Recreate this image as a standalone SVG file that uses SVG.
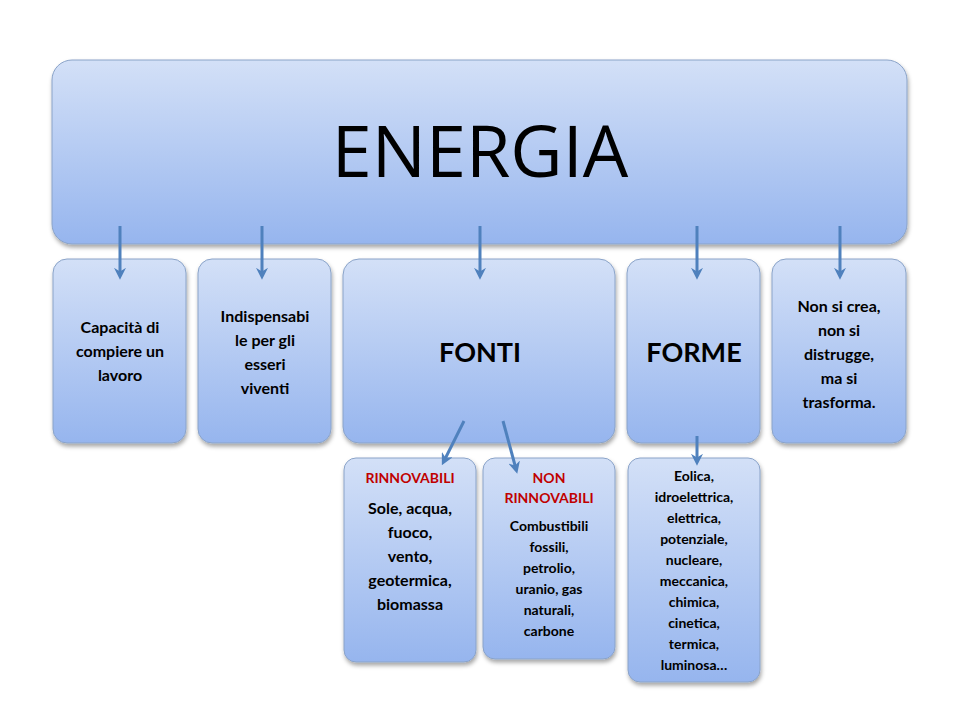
<svg xmlns="http://www.w3.org/2000/svg" width="960" height="720" viewBox="0 0 960 720">
<defs>
<linearGradient id="g" x1="0" y1="0" x2="0" y2="1"><stop offset="0" stop-color="#d3e0f7"/><stop offset="1" stop-color="#96b5ee"/></linearGradient>
<filter id="sh" x="-10%" y="-10%" width="130%" height="130%"><feDropShadow dx="1" dy="3" stdDeviation="2" flood-color="#000" flood-opacity="0.35"/></filter>
<marker id="ah" viewBox="0 0 10 10" refX="6" refY="5" markerWidth="4" markerHeight="4" orient="auto"><path d="M0,0 L10,5 L0,10 L3,5 Z" fill="#4f81bd"/></marker>
</defs>
<style>
.b{fill:url(#g);stroke:#8aa3c8;stroke-width:1;filter:url(#sh)}
.t{font-family:Lato,"Open Sans",sans-serif;font-weight:bold;fill:#000;text-anchor:middle}
.s{font-size:16px}
.r{fill:#c00000}
.c line{stroke:#4f81bd;stroke-width:3;marker-end:url(#ah)}
</style>
<rect width="960" height="720" fill="#fff"/>
<g id="energia"><rect class="b" x="52" y="60" width="855" height="184" rx="20"/><text class="t" x="480" y="177" style="font-size:72px;font-weight:normal;font-family:'Open Sans',sans-serif">ENERGIA</text></g>
<g id="capacita"><rect class="b" x="53" y="259" width="133" height="184" rx="14"/><text class="t s" x="120" y="333">Capacità di</text><text class="t s" x="120" y="357">compiere un</text><text class="t s" x="120" y="381">lavoro</text></g>
<g id="indisp"><rect class="b" x="198" y="259" width="133" height="184" rx="14"/><text class="t s" x="265" y="322">Indispensabi</text><text class="t s" x="265" y="346">le per gli</text><text class="t s" x="265" y="370">esseri</text><text class="t s" x="265" y="394">viventi</text></g>
<g id="fonti"><rect class="b" x="343" y="259" width="272" height="184" rx="16"/><text class="t" x="480" y="362" style="font-size:27px">FONTI</text></g>
<g id="forme"><rect class="b" x="627" y="259" width="133" height="184" rx="14"/><text class="t" x="694" y="362" style="font-size:27px">FORME</text></g>
<g id="nonsicrea"><rect class="b" x="772" y="259" width="134" height="184" rx="14"/><text class="t s" x="839" y="312">Non si crea,</text><text class="t s" x="839" y="336">non si</text><text class="t s" x="839" y="360">distrugge,</text><text class="t s" x="839" y="384">ma si</text><text class="t s" x="839" y="408">trasforma.</text></g>
<g id="rinn"><rect class="b" x="344" y="458" width="132" height="204" rx="12"/><text class="t r" x="410" y="483" style="font-size:14px">RINNOVABILI</text><text class="t s" x="410" y="514">Sole, acqua,</text><text class="t s" x="410" y="538">fuoco,</text><text class="t s" x="410" y="562">vento,</text><text class="t s" x="410" y="586">geotermica,</text><text class="t s" x="410" y="610">biomassa</text></g>
<g id="nonrinn"><rect class="b" x="483" y="458" width="132" height="201" rx="12"/><text class="t r" x="549" y="483" style="font-size:14px">NON</text><text class="t r" x="549" y="503" style="font-size:14px">RINNOVABILI</text><text class="t" x="549" y="531" style="font-size:14px">Combustibili</text><text class="t" x="549" y="552" style="font-size:14px">fossili,</text><text class="t" x="549" y="573" style="font-size:14px">petrolio,</text><text class="t" x="549" y="594" style="font-size:14px">uranio, gas</text><text class="t" x="549" y="615" style="font-size:14px">naturali,</text><text class="t" x="549" y="636" style="font-size:14px">carbone</text></g>
<g id="formelist"><rect class="b" x="628" y="458" width="132" height="224" rx="12"/>
<g class="t" style="font-size:14px"><text x="694" y="481">Eolica,</text><text x="694" y="502">idroelettrica,</text><text x="694" y="523">elettrica,</text><text x="694" y="544">potenziale,</text><text x="694" y="565">nucleare,</text><text x="694" y="586">meccanica,</text><text x="694" y="607">chimica,</text><text x="694" y="628">cinetica,</text><text x="694" y="649">termica,</text><text x="694" y="670">luminosa…</text></g></g>
<g id="connectors" class="c">
<line x1="120" y1="226" x2="120" y2="275"/>
<line x1="262" y1="226" x2="262" y2="275"/>
<line x1="480" y1="226" x2="480" y2="275"/>
<line x1="697" y1="226" x2="697" y2="275"/>
<line x1="840" y1="226" x2="840" y2="275"/>
<line x1="464" y1="421" x2="444" y2="461"/>
<line x1="503" y1="421" x2="516" y2="469"/>
<line x1="697" y1="436" x2="697" y2="461"/>
</g>
</svg>
